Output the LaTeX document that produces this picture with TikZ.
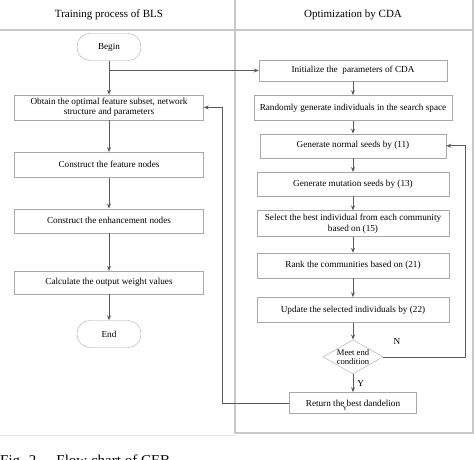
\documentclass[tikz,border=0pt]{standalone}
\usepackage{fontspec}
\setmainfont{Liberation Serif}
\usetikzlibrary{arrows.meta, positioning, shapes.geometric}
\definecolor{boxgray}{HTML}{A8A8A8}
\definecolor{lanegray}{HTML}{C8C8C8}
\definecolor{flowgray}{HTML}{5A5A5A}

\begin{document}
\begin{tikzpicture}[x=1pt, y=1pt, procbox/.style={rectangle,draw=boxgray,minimum width=192pt,minimum height=24pt,inner sep=2pt,align=center,font=\fontsize{9.2}{10.5}\selectfont}, terminal/.style={rectangle,rounded corners=13pt,draw=boxgray,minimum width=64pt,minimum height=27pt,font=\fontsize{9.2}{10.5}\selectfont}, decision/.style={diamond,draw=boxgray,aspect=1.75,inner sep=0pt,align=center,font=\fontsize{8.6}{9.6}\selectfont}, lane/.style={draw=lanegray,line width=1.2pt}, flow/.style={draw=flowgray,line width=0.8pt,-{Stealth[length=5pt,width=4pt]}}, lbl/.style={font=\fontsize{9.2}{10.5}\selectfont,inner sep=0pt}]
        \useasboundingbox (0,0) rectangle (474,-460);
        \draw[lane] (0,-30) -- (474,-30);
        \draw[lane] (235,0) -- (235,-433) -- (473,-433) -- (473,0);
        \draw[draw=lanegray!50,line width=1pt] (0,-435) -- (235,-435);
        \node[font=\fontsize{11}{13}\selectfont] (hbls) at (109,-15) {Training process of BLS};
        \node[font=\fontsize{11}{13}\selectfont] (hcda) at (353,-15) {Optimization by CDA};

        \node[terminal] (begin) at (109,-47) {Begin};
        \node[procbox, minimum width=189pt, minimum height=25pt, below=34pt of begin] (obtain) {Obtain the optimal feature subset, network\\structure and parameters};
        \node[procbox, minimum width=189pt, minimum height=25pt, below=32pt of obtain] (feature) {Construct the feature nodes};
        \node[procbox, minimum width=189pt, below=31pt of feature] (enhance) {Construct the enhancement nodes};
        \node[procbox, minimum width=189pt, minimum height=23pt, below=38pt of enhance] (output) {Calculate the output weight values};
        \node[terminal, below=26pt of output] (end) {End};

        \node[procbox, minimum width=188pt, minimum height=21pt] (init) at (353,-70.5) {Initialize the\ \ parameters of CDA};
        \node[procbox, minimum width=198pt, minimum height=25pt, below=14pt of init] (random) {Randomly generate individuals in the search space};
        \node[procbox, minimum width=186pt, below=13pt of random] (normal) {Generate normal seeds by (11)};
        \node[procbox, below=14pt of normal] (mutation) {Generate mutation seeds by (13)};
        \node[procbox, minimum height=26pt, below=14pt of mutation] (select) {Select the best individual from each community\\based on (15)};
        \node[procbox, minimum height=25pt, below=16pt of select] (rank) {Rank the communities based on (21)};
        \node[procbox, minimum height=25pt, below=19pt of rank] (update) {Update the selected individuals by (22)};
        \node[decision, below=17pt of update] (meet) {Meet end\\condition};
        \node[procbox, minimum width=127pt, minimum height=21pt, below=18pt of meet] (best) {Return the best dandelion};

        \coordinate (split) at (begin |- init.west);
        \coordinate (nturn) at (meet.east -| 465,0);
        \coordinate (bturn) at (best.west -| 222,0);
        \draw[flow] (begin) -- (obtain);
        \draw[flow] (split) -- (init);
        \draw[flow] (obtain) -- (feature);
        \draw[flow] (feature) -- (enhance);
        \draw[flow] (enhance) -- (output);
        \draw[flow] (output) -- (end);
        \draw[flow] (init) -- (random);
        \draw[flow] (random) -- (normal);
        \draw[flow] (normal) -- (mutation);
        \draw[flow] (mutation) -- (select);
        \draw[flow] (select) -- (rank);
        \draw[flow] (rank) -- (update);
        \draw[flow] (update) -- (meet);
        \draw[flow] (meet) -- node[lbl, right=4pt] {Y} (best);
        \draw[flow] (meet.east) -- (nturn) |- (normal.east);
        \draw[flow] (best.west) -- (bturn) |- (obtain.east);
        \node[lbl] (nlabel) at (397,-341) {N};
        \node[lbl, font=\fontsize{6}{7}\selectfont] (ystray) at (345,-409) {Y};

        \node[anchor=north west, inner sep=0pt, font=\fontsize{15}{17}\selectfont] (caption) at (0,-455) {Fig. 2\hspace{20pt}Flow chart of CEB};
    \end{tikzpicture}
\end{document}
